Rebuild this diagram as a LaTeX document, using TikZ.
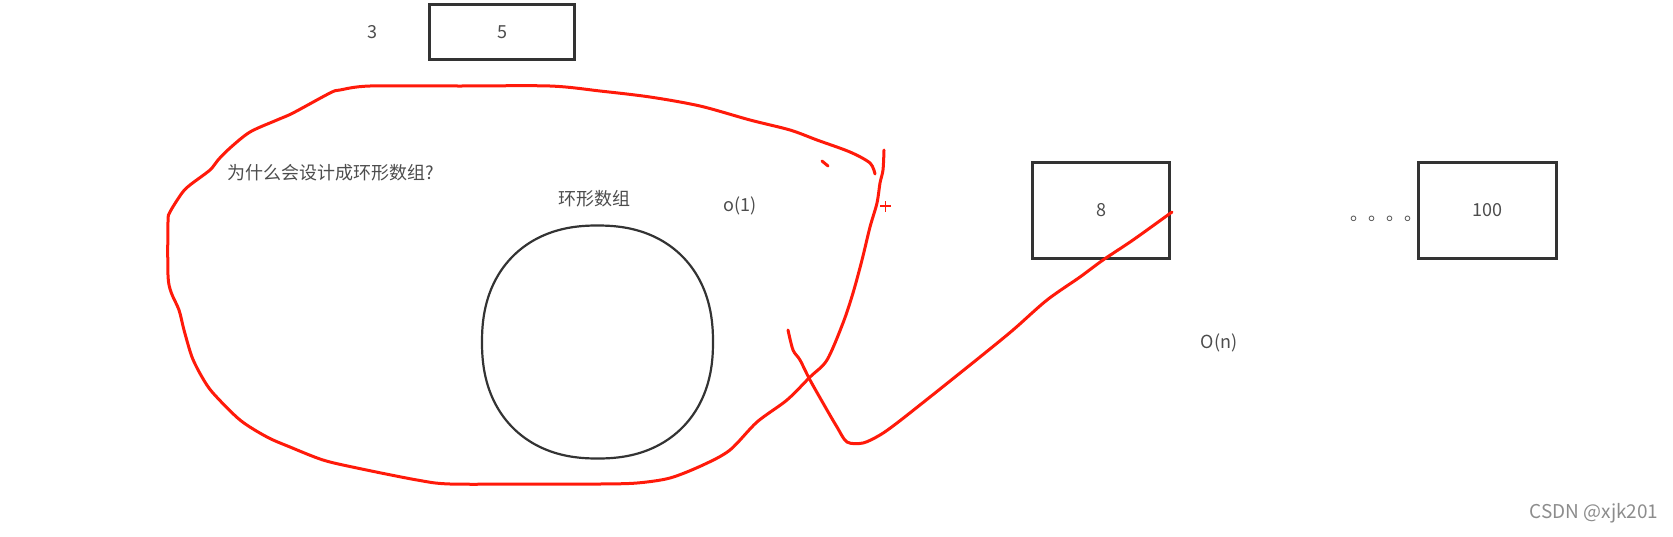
\documentclass[tikz,border=0pt]{standalone}
\usepackage{fontspec}
\newfontfamily\cjkfont{Noto Sans CJK SC}
\definecolor{inkgray}{HTML}{4D4D4D}
\definecolor{boxgray}{HTML}{333333}
\definecolor{penred}{HTML}{FF1A0A}
\definecolor{markgray}{HTML}{8C8C8C}
\begin{document}
\begin{tikzpicture}[x=1pt, y=-1pt,
  txt/.style={font=\cjkfont\fontsize{18}{20}\selectfont, text=inkgray, inner sep=0pt},
  cell/.style={txt, draw=boxgray, line width=3pt},
  pen/.style={draw=penred, line width=3pt, line cap=round, line join=round}]
  \useasboundingbox (0,0) rectangle (1673,536);
  \node[txt] (three) at (372,32) {3};
  \node[cell, minimum width=145pt, minimum height=55pt] (box5) at (502,32) {5};
  \node[txt, anchor=west] (question) at (227,173) {为什么会设计成环形数组?};
  \node[txt] (ringlabel) at (594,199) {环形数组};
  \node[txt] (o1) at (740,206) {o(1)};
  \node[cell, minimum width=137pt, minimum height=96pt] (box8) at (1101,210) {8};
  \node[txt, anchor=base west] (dots) at (1350,220) {。。。。};
  \node[cell, minimum width=138pt, minimum height=96pt] (box100) at (1487,210) {100};
  \node[txt] (On) at (1219,343) {O(n)};
  \node[txt, text=markgray, font=\cjkfont\fontsize{19}{21}\selectfont] (mark) at (1594,513) {CSDN @xjk201};
  \draw[boxgray, line width=2.2pt] plot[domain=0.5:360.5, samples=121, smooth]
    ({597.5+115.5*cos(\x)*pow(abs(cos(\x)),-0.11)}, {342+116.5*sin(\x)*pow(abs(sin(\x)),-0.11)}) -- cycle;
  \draw[pen] plot[smooth, tension=0.5] coordinates {(875,174) (870,163) (850,152) (817,140) (790,130)
    (750,120) (700,106) (650,97) (600,91) (550,86) (460,86) (370,86) (340,90) (330,93) (293,113)
    (277,120) (250,132) (230,148) (218,160) (210,170) (190,185) (182,193) (170,212) (168,222)
    (168,275) (171,292) (179,310) (184,330) (192,357) (202,377) (213,393) (240,420) (267,437)
    (290,447) (323,460) (357,468) (417,480) (450,484) (530,484) (600,484) (637,483) (670,478)
    (703,465) (730,450) (757,422) (787,400) (810,377) (827,360) (843,323) (853,293) (862,260)
    (870,227) (877,203) (880,183) (883,170) (884,150)};
  \draw[pen] plot[smooth, tension=0.5] coordinates {(788,330) (793,350) (800,360) (810,380)
    (827,410) (837,427) (847,442) (863,443) (880,435) (897,423) (930,397) (980,357) (1013,330)
    (1047,300) (1080,277) (1103,260) (1133,240) (1172,212)};
  \draw[pen] (822,161) -- (828,166);
  \draw[penred, line width=1.6pt] (880,206) -- (891,206) (885.5,201) -- (885.5,212);
\end{tikzpicture}
\end{document}
